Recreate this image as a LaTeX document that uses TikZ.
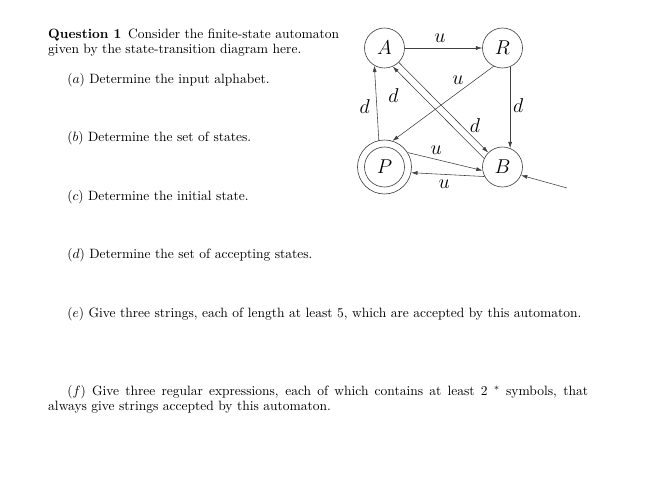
\RequirePackage{fix-cm}
\documentclass[tikz,border=0pt]{standalone}
\usetikzlibrary{arrows.meta}
\begin{document}
\begin{tikzpicture}[x=0.8pt,y=-0.8pt,
  txt/.style={anchor=base west, inner sep=0pt, font=\fontsize{10.8}{13}\selectfont},
  state/.style={circle, draw=black!75, line width=0.5pt, minimum size=32pt, inner sep=0pt, font=\fontsize{16}{19}\selectfont},
  accouter/.style={state, minimum size=43.2pt},
  edge/.style={draw=black!75, line width=0.45pt, -{Latex[length=5pt,width=3.2pt]}},
  lab/.style={font=\fontsize{16}{19}\selectfont, inner sep=0pt}]
\useasboundingbox (0,0) rectangle (657,487);

% text
\node[txt] (q1) at (48,38.5) {\textbf{Question 1}\enspace Consider the finite-state automaton};
\node[txt] (q2) at (48,53.3) {given by the state-transition diagram here.};
\node[txt] (pa) at (67,83) {$(a)$ Determine the input alphabet.};
\node[txt] (pb) at (67,141.5) {$(b)$ Determine the set of states.};
\node[txt] (pc) at (67,200.5) {$(c)$ Determine the initial state.};
\node[txt] (pd) at (67,258.5) {$(d)$ Determine the set of accepting states.};
\node[txt] (pe) at (67,317) {$(e)$ Give three strings, each of length at least 5, which are accepted by this automaton.};
\node[txt] (pf) at (67,395.5) {\makebox[416.8pt][s]{$(f)$ Give three regular expressions, each of which contains at least 2 $^*$ symbols, that}};
\node[txt] (pf2) at (48,410) {always give strings accepted by this automaton.};

% states
\node[state] (A) at (384.5,48) {$A$};
\node[state] (R) at (502.5,48) {$R$};
\node[accouter] (P) at (384.5,167) {};
\node[state] (Pin) at (384.5,167) {$P$};
\node[state] (B) at (502.5,167) {$B$};
\coordinate (init) at (567,188);

% transitions
\draw[edge] (A) -- node[lab, pos=0.455, shift={(0,-9.5)}] {$u$} (R);
\draw[edge] (R.-68) -- node[lab, pos=0.48, shift={(8,0)}] {$d$} (B.68);
\draw[edge] (R.-116) -- node[lab, pos=0.296, shift={(-5.7,-7.7)}] {$u$} (P.73);
\draw[edge] (A) -- node[lab, pos=0.774, shift={(6.9,-6.8)}] {$d$} (B);
\draw[edge] (B.155) -- node[lab, pos=0.84, shift={(-14,14)}] {$d$} (A.-66);
\draw[edge] (P.102) -- node[lab, pos=0.453, shift={(-12,0)}] {$d$} (A.240);
\draw[edge] (P.32) -- node[lab, pos=0.38, shift={(0,-9.5)}] {$u$} (B.190);
\draw[edge] (B.208) -- node[lab, pos=0.552, shift={(0,10)}] {$u$} (P.-12);
\draw[edge] (init) -- (B.-24);
\end{tikzpicture}
\end{document}
